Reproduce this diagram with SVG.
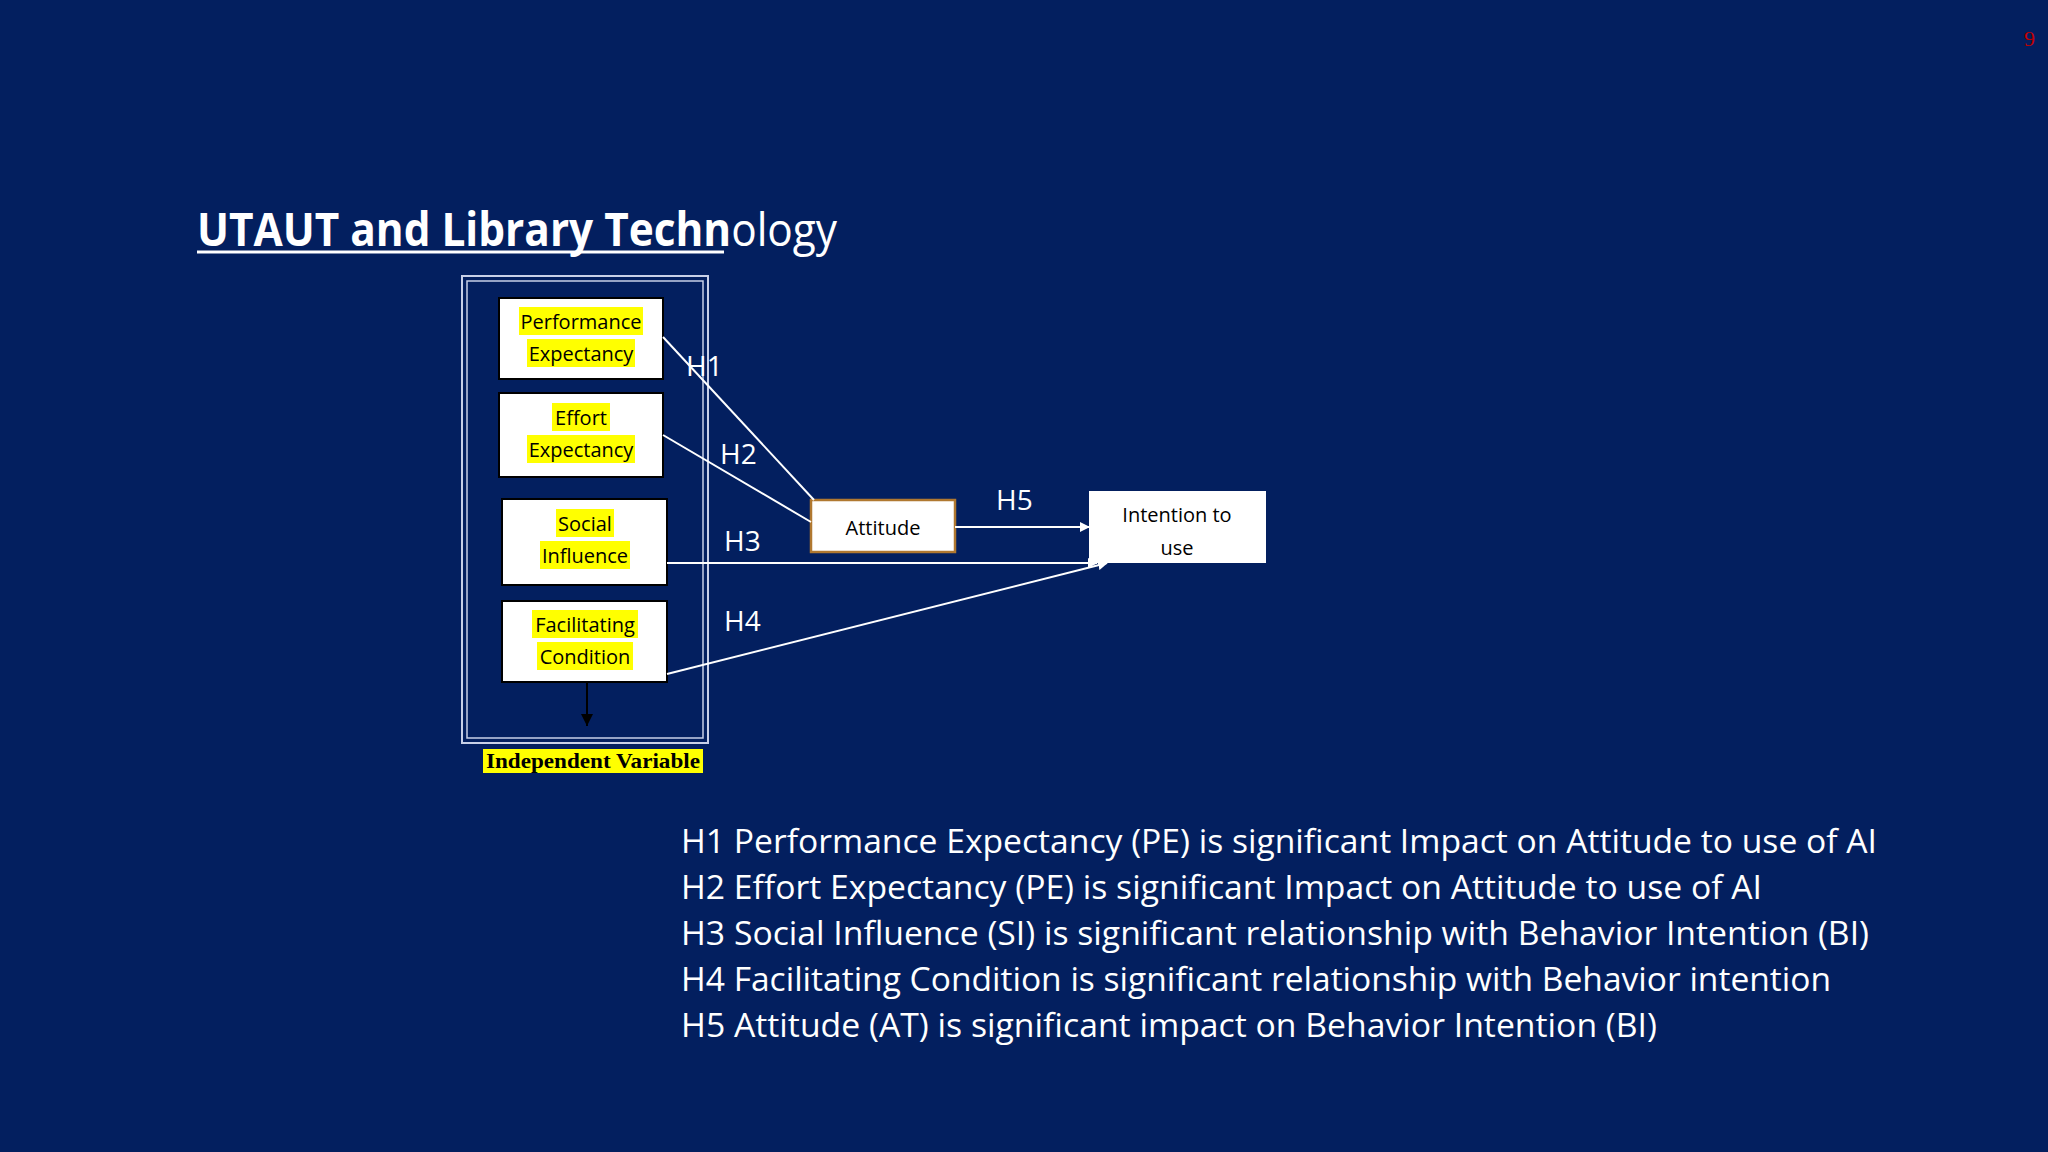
<svg xmlns="http://www.w3.org/2000/svg" width="2048" height="1152" viewBox="0 0 2048 1152">
<defs>
<style>
.t{font-family:"Open Sans","Liberation Sans",sans-serif;fill:#fff}
.n{font-family:"Open Sans","Liberation Sans",sans-serif;font-size:20px;fill:#000;text-anchor:middle}
.box{fill:#fff;stroke:#000;stroke-width:2}
.hl{fill:#ffff00}
.c{stroke:#fff;stroke-width:2;fill:none}
.h{font-family:"Open Sans","Liberation Sans",sans-serif;font-size:28px;fill:#fff}
</style>
<marker id="aw" markerWidth="10" markerHeight="10" refX="9" refY="5" orient="auto" markerUnits="userSpaceOnUse"><path d="M0,0L10,5L0,10z" fill="#fff"/></marker>
<marker id="ab" markerWidth="10" markerHeight="12" refX="5" refY="12" orient="auto" markerUnits="userSpaceOnUse"><path d="M0,0L5,12L10,0z" fill="#000" transform="rotate(-90 5 6)"/></marker>
</defs>
<rect width="2048" height="1152" fill="#031f5f"/>
<text x="2024" y="46" font-family="Liberation Serif,serif" font-size="22" fill="#c00000">9</text>
<g id="title">
<text class="t" x="197" y="246" font-size="46" textLength="640" lengthAdjust="spacingAndGlyphs"><tspan font-weight="bold">UTAUT and Library Techn</tspan>ology</text>
<line x1="197" y1="252" x2="724" y2="252" stroke="#fff" stroke-width="3"/>
</g>
<g id="group-iv">
<rect x="462" y="276" width="246" height="467" fill="none" stroke="#c8d0e8" stroke-width="2"/>
<rect x="467" y="281" width="236" height="457" fill="none" stroke="#c8d0e8" stroke-width="1.5"/>
<rect x="483" y="749" width="220" height="24" class="hl"/>
<text x="593" y="768" font-family="Liberation Serif,serif" font-weight="bold" font-size="22" text-anchor="middle" textLength="214" lengthAdjust="spacingAndGlyphs">Independent Variable</text>
</g>
<g id="pe"><rect class="box" x="499" y="298" width="164" height="81"/>
<rect class="hl" x="519" y="307" width="124" height="28"/><rect class="hl" x="527" y="339" width="108" height="28"/>
<text class="n" x="581" y="329">Performance</text><text class="n" x="581" y="361">Expectancy</text></g>
<g id="ee"><rect class="box" x="499" y="393" width="164" height="84"/>
<rect class="hl" x="552" y="403" width="58" height="28"/><rect class="hl" x="527" y="435" width="108" height="28"/>
<text class="n" x="581" y="425">Effort</text><text class="n" x="581" y="457">Expectancy</text></g>
<g id="si"><rect class="box" x="502" y="499" width="165" height="86"/>
<rect class="hl" x="556" y="509" width="58" height="28"/><rect class="hl" x="540" y="541" width="90" height="28"/>
<text class="n" x="585" y="531">Social</text><text class="n" x="585" y="563">Influence</text></g>
<g id="fc"><rect class="box" x="502" y="601" width="165" height="81"/>
<rect class="hl" x="532" y="610" width="106" height="28"/><rect class="hl" x="537" y="642" width="96" height="28"/>
<text class="n" x="585" y="632">Facilitating</text><text class="n" x="585" y="664">Condition</text></g>
<g id="attitude"><rect x="811" y="500" width="144" height="52" fill="#fff" stroke="#b07830" stroke-width="2.5"/>
<text class="n" x="883" y="535">Attitude</text></g>
<g id="intention"><rect x="1089" y="491" width="177" height="72" fill="#fff"/>
<text class="n" x="1177" y="522">Intention to</text><text class="n" x="1177" y="555">use</text></g>
<g id="connectors">
<line class="c" x1="663" y1="337" x2="814" y2="500"/>
<line class="c" x1="663" y1="435" x2="811" y2="522"/>
<line class="c" x1="667" y1="563" x2="1097" y2="563" marker-end="url(#aw)"/>
<line class="c" x1="667" y1="674" x2="1107" y2="563" marker-end="url(#aw)"/>
<line class="c" x1="955" y1="527" x2="1089" y2="527" marker-end="url(#aw)"/>
<line x1="587" y1="682" x2="587" y2="726" stroke="#000" stroke-width="2" marker-end="url(#aw)" style="marker-end:none"/>
<path d="M581,714L587,726L593,714z" fill="#000"/>
<text class="h" x="686" y="376">H1</text>
<text class="h" x="720" y="464">H2</text>
<text class="h" x="724" y="551">H3</text>
<text class="h" x="724" y="631">H4</text>
<text class="h" x="996" y="510">H5</text>
</g>
<g id="hypotheses" class="t" font-size="33">
<text x="681" y="853" textLength="1196" lengthAdjust="spacingAndGlyphs">H1 Performance Expectancy (PE) is significant Impact on Attitude to use of AI</text>
<text x="681" y="899" textLength="1081" lengthAdjust="spacingAndGlyphs">H2 Effort Expectancy (PE) is significant Impact on Attitude to use of AI</text>
<text x="681" y="945" textLength="1188" lengthAdjust="spacingAndGlyphs">H3 Social Influence (SI) is significant relationship with Behavior Intention (BI)</text>
<text x="681" y="991" textLength="1150" lengthAdjust="spacingAndGlyphs">H4 Facilitating Condition is significant relationship with Behavior intention</text>
<text x="681" y="1037" textLength="976" lengthAdjust="spacingAndGlyphs">H5 Attitude (AT) is significant impact on Behavior Intention (BI)</text>
</g>
</svg>
